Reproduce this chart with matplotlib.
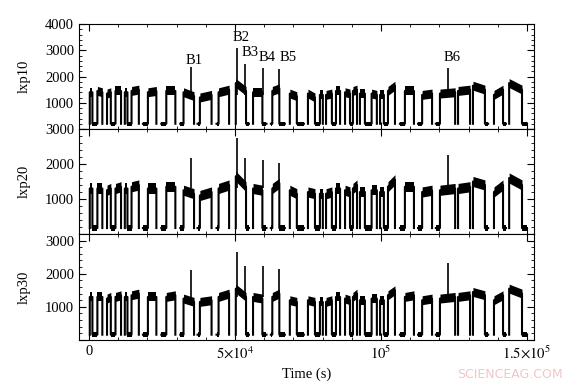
import matplotlib.pyplot as plt
import numpy as np
from matplotlib.ticker import MultipleLocator

plt.rcParams['font.family'] = 'Liberation Serif'
plt.rcParams['mathtext.fontset'] = 'stix'
plt.rcParams['font.size'] = 10.5

# segments of the trace (s); H = on, L = off, a jump in time is a gap
seg_t0 = [300, 1200, 2900, 6200, 7500, 9100, 12300, 13200, 14600,
          18500, 20200, 24800, 26500, 31300, 32400, 37200, 38000, 43700, 44400,
          50300, 53800, 56200, 59400, 62300, 62800, 65200, 68800, 71200,
          75000, 77400, 79100, 81200, 83200, 84600, 87700, 89400, 90400,
          92800, 94500, 96800, 99700, 101000, 102400,
          106500, 108200, 112700, 114100, 118800, 120200, 126400,
          131500, 135600, 138700, 141800, 143900, 148300]
seg_t1 = [1200, 2900, 4600, 7500, 9100, 11000, 13200, 14600, 17100,
          20200, 23100, 26500, 29600, 32400, 36000, 38000, 42000, 44400, 48000,
          53800, 54800, 59400, 60800, 62800, 65200, 67100, 71200, 73600,
          77400, 79100, 80100, 83200, 84600, 86000, 89400, 90400, 91800,
          94500, 96800, 98600, 101000, 102400, 104800,
          108200, 111300, 114100, 117500, 120200, 125400, 130500,
          135600, 136700, 141800, 142800, 148300, 150000]
seg_kind = list("HLH" "HLH" "HLH" "LH" "LH" "LH" "LH" "LH"
                "HL" "HL" "LHL" "HL" "HLH" "HLH" "HLH" "HLH" "HLH"
                "LH" "LH" "LH" "H" "HL" "HL" "HL")

# on-level at start / end of each H segment, per channel
lxp10_on0 = [1400, 1450, 1350, 1450, 1400, 1450, 1400, 1450, 1400, 1200, 1400,
             1750, 1400, 1450, 1350, 1350, 1300, 1300, 1450, 1400, 1450, 1350,
             1350, 1300, 1450, 1450, 1300, 1350, 1450, 1650, 1300, 1750]
lxp10_on1 = [1400, 1400, 1400, 1450, 1400, 1500, 1450, 1450, 1250, 1300, 1500,
             1450, 1400, 1550, 1250, 1200, 1300, 1350, 1450, 1350, 1500, 1350,
             1300, 1300, 1650, 1450, 1350, 1400, 1500, 1500, 1500, 1500]
lxp20_on0 = [1300, 1300, 1250, 1300, 1300, 1350, 1300, 1350, 1250, 1100, 1300,
             1650, 1300, 1300, 1250, 1200, 1150, 1150, 1300, 1250, 1300, 1200,
             1250, 1200, 1350, 1350, 1200, 1250, 1300, 1500, 1200, 1600]
lxp20_on1 = [1300, 1300, 1300, 1350, 1300, 1400, 1300, 1350, 1150, 1200, 1400,
             1350, 1250, 1450, 1150, 1150, 1150, 1200, 1300, 1200, 1400, 1200,
             1250, 1200, 1550, 1350, 1250, 1300, 1350, 1400, 1400, 1400]
lxp30_on0 = [1300, 1300, 1250, 1300, 1300, 1350, 1300, 1300, 1250, 1150, 1300,
             1550, 1300, 1300, 1200, 1200, 1150, 1150, 1300, 1250, 1300, 1200,
             1250, 1200, 1350, 1300, 1200, 1250, 1300, 1450, 1200, 1550]
lxp30_on1 = [1300, 1300, 1300, 1350, 1300, 1400, 1300, 1350, 1150, 1200, 1400,
             1300, 1250, 1400, 1150, 1150, 1150, 1200, 1300, 1200, 1400, 1200,
             1250, 1200, 1500, 1350, 1250, 1300, 1350, 1350, 1350, 1400]
off_level = [200, 170, 160]

# bursts B1..B6
burst_names = ["B1", "B2", "B3", "B4", "B5", "B6"]
burst_t = [34900, 50600, 53300, 59600, 65000, 123000]
burst_top = [[2350, 3100, 2460, 2330, 2270, 2330],
             [2170, 2740, 2170, 2120, 2030, 2250],
             [2120, 2670, 2220, 2220, 2140, 2320]]

names = ["lxp10", "lxp20", "lxp30"]
on0 = [lxp10_on0, lxp20_on0, lxp30_on0]
on1 = [lxp10_on1, lxp20_on1, lxp30_on1]


def draw(ax, hi0, hi1, lo, half, lo_half):
    k = 0
    xs, ys = [], []
    prev = None
    for t0, t1, kind in zip(seg_t0, seg_t1, seg_kind):
        if kind == "H":
            y0, y1, h = hi0[k], hi1[k], half
            k += 1
        else:
            y0, y1, h = lo, lo, lo_half
        ax.fill_between([t0, t1], [y0 - h, y1 - h], [y0 + h, y1 + h],
                        color="black", lw=0)
        if prev is not None and t0 != prev:
            xs += [prev, np.nan]
            ys += [lo, np.nan]
        if not xs or np.isnan(xs[-1]):
            xs.append(t0)
            ys.append(lo)
        xs += [t0, t1]
        ys += [y0, y1]
        prev = t1
    xs.append(prev)
    ys.append(lo)
    ax.plot(xs, ys, color="black", lw=1.5)


fig = plt.figure(figsize=(5.82, 3.86), dpi=100)
boxes = [[0.1357, 0.6658, 0.7818, 0.2720],
         [0.1357, 0.3938, 0.7818, 0.2720],
         [0.1357, 0.1192, 0.7818, 0.2746]]
ylims = [4000, 3000, 3200]
halves = [170, 145, 135]
axes = []
for i in range(3):
    ax = fig.add_axes(boxes[i], sharex=axes[0] if axes else None)
    axes.append(ax)
    draw(ax, on0[i], on1[i], off_level[i], halves[i], 80)
    ax.vlines(burst_t, 1300, burst_top[i], color="black", lw=1.2)
    ax.set_ylim(0, ylims[i])
    top = 4000 if i == 0 else 3000
    ticks = list(range(0, top + 1, 1000))
    ax.set_yticks(ticks)
    ax.set_yticklabels([""] + [str(t) for t in ticks[1:]])
    ax.yaxis.set_minor_locator(MultipleLocator(200))
    ax.xaxis.set_minor_locator(MultipleLocator(10000))
    ax.tick_params(which="both", direction="in", top=True, right=True)
    ax.tick_params(which="major", length=5)
    ax.tick_params(which="minor", length=2.5)
    ax.set_ylabel(names[i])
    ax.yaxis.set_label_coords(-0.105, 0.5)
    if i < 2:
        ax.tick_params(labelbottom=False)

label_x = [36000, 52000, 55300, 61100, 68300, 124200]
label_y = [2380, 3230, 2650, 2460, 2460, 2460]
for name, x, y in zip(burst_names, label_x, label_y):
    axes[0].text(x, y, name, ha="center", va="bottom")

ax = axes[2]
ax.set_xlim(-3400, 152400)
ax.set_xticks([0, 50000, 100000, 150000])
ax.set_xticklabels(["0", r"$5{\times}10^4$", r"$10^5$", r"$1.5{\times}10^5$"])
ax.set_xlabel("Time (s)")

fig.text(0.876, 0.02, "SCIENCEAG.COM", color="#f2c6c6", fontsize=9,
         family="DejaVu Sans", ha="center")

plt.savefig("out.png", dpi=100)
